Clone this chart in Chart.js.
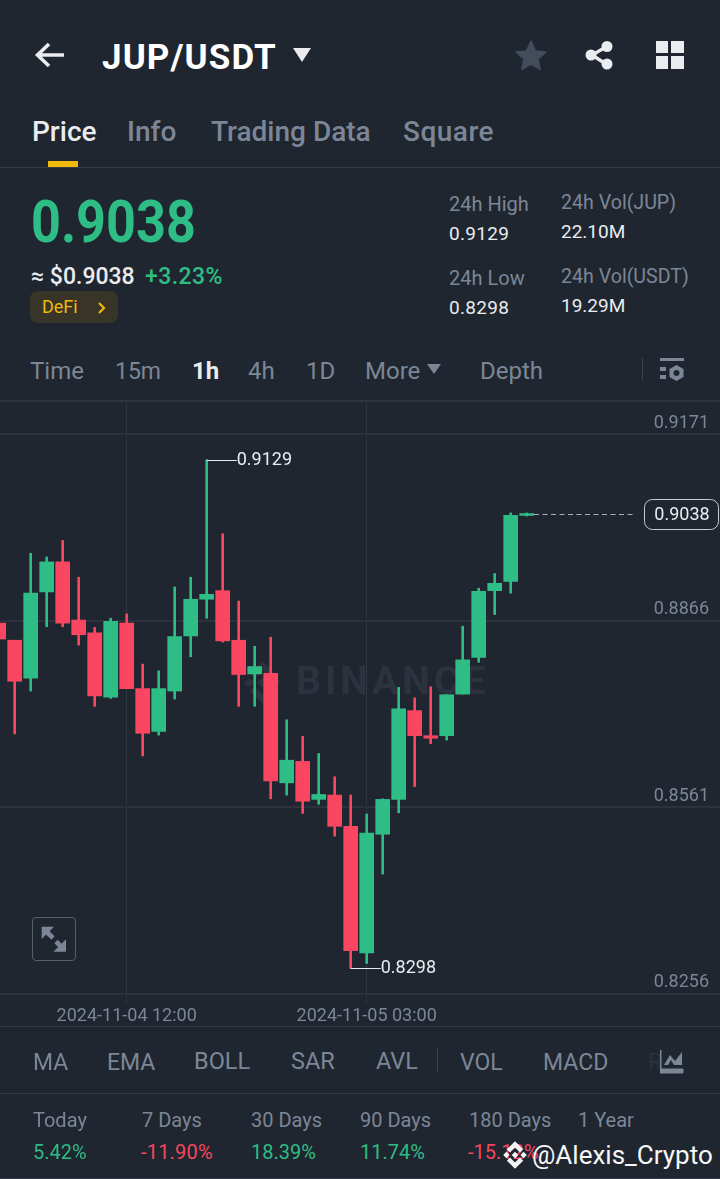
<!DOCTYPE html>
<html>
<head>
<meta charset="utf-8">
<title>JUP/USDT</title>
<script src="https://cdn.jsdelivr.net/npm/chart.js@4/dist/chart.umd.js"></script>
<style>
html, body { margin: 0; padding: 0; background: #1f2630; }
body { width: 720px; height: 1179px; position: relative; overflow: hidden; font-family: Roboto, sans-serif; color: #7d8696; }
.t { position: absolute; white-space: nowrap; line-height: 1; transform: translateY(-50%); }
.g { color: #7d8696; }
.w { color: #eaecef; }
.up { color: #2ebd85; }
.down { color: #f6465d; }
.hr { position: absolute; left: 0; width: 720px; height: 1px; background: #353c47; }
svg { position: absolute; }
#grafica { position: absolute; left: 0; top: 401px; }
</style>
</head>
<body>
<!-- cabecera -->
<svg style="left:34px;top:41px" width="32" height="28" viewBox="0 0 32 28"><path d="M30 14H4M15 3L3.5 14L15 25" fill="none" stroke="#eaecef" stroke-width="3.6"/></svg>
<div class="t" style="left:102px;top:57px;font-size:35px;font-weight:700;color:#fff;letter-spacing:1.1px">JUP/USDT</div>
<svg style="left:292px;top:47px" width="20" height="16"><path d="M1 1H19L10 15Z" fill="#eaecef"/></svg>
<svg style="left:514px;top:39px" width="34" height="34" viewBox="0 0 24 24"><path d="M12 1.5l3.1 6.9 7.4.8-5.5 5 1.5 7.3L12 17.8l-6.5 3.7L7 14.2l-5.5-5 7.4-.8z" fill="#434c5b" stroke="#434c5b" stroke-linejoin="round"/></svg>
<svg style="left:583px;top:39px" width="32" height="32" viewBox="0 0 32 32"><path d="M23 8L9 16L23 25" fill="none" stroke="#eaecef" stroke-width="3.4"/><circle cx="24" cy="7.5" r="5.5" fill="#eaecef"/><circle cx="8" cy="16" r="5.5" fill="#eaecef"/><circle cx="24" cy="25" r="5.5" fill="#eaecef"/></svg>
<svg style="left:656px;top:41px" width="28" height="28"><path d="M0 0H12V12H0ZM15 0H28V12H15ZM0 15H12V28H0ZM15 15H28V28H15Z" fill="#eaecef"/></svg>

<div class="t" style="left:32px;top:132px;font-size:28px;font-weight:500;color:#eaecef">Price</div>
<div class="t g" style="left:127px;top:132px;font-size:28px;font-weight:500">Info</div>
<div class="t g" style="left:211px;top:132px;font-size:28px;font-weight:500">Trading Data</div>
<div class="t g" style="left:403px;top:132px;font-size:28px;font-weight:500;letter-spacing:.5px">Square</div>
<div style="position:absolute;left:48px;top:161px;width:30px;height:6px;background:#f0b90b"></div>
<div class="hr" style="top:167px"></div>

<!-- precio -->
<div class="t up" style="left:31px;top:222px;font-size:60px;font-weight:700;transform-origin:left center;transform:translateY(-50%) scaleX(.87)">0.9038</div>
<div class="t w" style="left:31px;top:276px;font-size:23px;font-weight:500">≈ $0.9038</div>
<div class="t up" style="left:145px;top:276px;font-size:23px;font-weight:500;letter-spacing:.4px">+3.23%</div>
<div style="position:absolute;left:30px;top:291px;width:88px;height:32px;border-radius:8px;background:#383428"></div>
<div class="t" style="left:42px;top:307px;font-size:18px;color:#f0b90b">DeFi</div>
<svg style="left:97px;top:301px" width="10" height="14"><path d="M2 2L7 7L2 12" fill="none" stroke="#f0b90b" stroke-width="2.2"/></svg>

<div class="t g" style="left:449px;top:204px;font-size:20px">24h High</div>
<div class="t w" style="left:449px;top:233px;font-size:19px;letter-spacing:.3px">0.9129</div>
<div class="t g" style="left:561px;top:203px;font-size:19.6px">24h Vol(JUP)</div>
<div class="t w" style="left:561px;top:231px;font-size:19px">22.10M</div>
<div class="t g" style="left:449px;top:278px;font-size:20px">24h Low</div>
<div class="t w" style="left:449px;top:307px;font-size:19px;letter-spacing:.3px">0.8298</div>
<div class="t g" style="left:561px;top:277px;font-size:19.6px">24h Vol(USDT)</div>
<div class="t w" style="left:561px;top:305px;font-size:19px">19.29M</div>

<!-- intervalos -->
<div class="t g" style="left:30px;top:371px;font-size:24px">Time</div>
<div class="t g" style="left:115px;top:371px;font-size:23px">15m</div>
<div class="t w" style="left:192px;top:371px;font-size:24px;font-weight:700">1h</div>
<div class="t g" style="left:248px;top:371px;font-size:24px">4h</div>
<div class="t g" style="left:306px;top:371px;font-size:24px">1D</div>
<div class="t g" style="left:365px;top:371px;font-size:24px">More</div>
<svg style="left:427px;top:364px" width="14" height="10"><path d="M0 0H14L7 10Z" fill="#7d8696"/></svg>
<div class="t g" style="left:480px;top:371px;font-size:24px">Depth</div>
<div style="position:absolute;left:642px;top:358px;width:1px;height:23px;background:#3b424d"></div>
<svg style="left:660px;top:358px" width="24" height="24"><path d="M0 0H24V3H0ZM0 9H6V13H0ZM0 17H6V21H0Z" fill="#7d8696"/><path d="M16.5 7L23.5 11V19L16.5 23L9.5 19V11Z" fill="#7d8696"/><circle cx="16.5" cy="15" r="3" fill="#1f2630"/></svg>
<div class="hr" style="top:400px;height:2px;background:#2c333e"></div>

<canvas id="grafica" width="720" height="626"></canvas>

<div style="position:absolute;left:32px;top:917px;width:42px;height:42px;border:1px solid #565e6c;border-radius:4px;background:#1f2630"></div>
<svg style="left:32px;top:917px" width="44" height="44"><path d="M9.7 9.7H22L9.7 22ZM34 34.7V22.3L21.3 34.7Z" fill="#7d8696"/><path d="M13 13L21 21M24 24.5L30 30.5" stroke="#7d8696" stroke-width="4.6"/></svg>

<!-- indicadores -->
<div class="hr" style="top:1026px"></div>
<div class="t g" style="left:33px;top:1062px;font-size:23px">MA</div>
<div class="t g" style="left:107px;top:1062px;font-size:23px">EMA</div>
<div class="t g" style="left:194px;top:1062px;font-size:23.5px">BOLL</div>
<div class="t g" style="left:291px;top:1062px;font-size:23.5px">SAR</div>
<div class="t g" style="left:376px;top:1062px;font-size:23.5px">AVL</div>
<div style="position:absolute;left:437px;top:1048px;width:1px;height:24px;background:#3b424d"></div>
<div class="t g" style="left:460px;top:1062px;font-size:23px">VOL</div>
<div class="t g" style="left:543px;top:1062px;font-size:23px">MACD</div>
<div class="t" style="left:648px;top:1062px;font-size:23px;color:#2b323c">R</div>
<svg style="left:660px;top:1050px" width="24" height="24"><path d="M1 0V19H23V23H0V0Z" fill="#7d8696" stroke="#7d8696"/><path d="M4 15L10 5L15 11L22 2V15Z" fill="#7d8696"/><path d="M8 15L11 10L14 15Z" fill="#1f2630"/></svg>
<div class="hr" style="top:1093px"></div>

<div class="t g" style="left:33px;top:1120px;font-size:20px">Today</div>
<div class="t g" style="left:142px;top:1120px;font-size:20px">7 Days</div>
<div class="t g" style="left:251px;top:1120px;font-size:20px">30 Days</div>
<div class="t g" style="left:360px;top:1120px;font-size:20px">90 Days</div>
<div class="t g" style="left:469px;top:1120px;font-size:20px">180 Days</div>
<div class="t g" style="left:578px;top:1120px;font-size:20px">1 Year</div>
<div class="t up" style="left:33px;top:1152px;font-size:20px">5.42%</div>
<div class="t down" style="left:141px;top:1152px;font-size:20px;letter-spacing:.2px">-11.90%</div>
<div class="t up" style="left:251px;top:1152px;font-size:20px">18.39%</div>
<div class="t up" style="left:360px;top:1152px;font-size:20px">11.74%</div>
<div class="t down" style="left:468px;top:1152px;font-size:20px">-15.12%</div>
<div class="hr" style="top:1178px"></div>

<svg style="left:498px;top:1138px" width="34" height="34" viewBox="0 0 32 32"><path id="logoBnb" fill="#f4f5f6" fill-rule="evenodd" d="M16 12.9L19.1 16L16 19.1L12.9 16ZM7.9 13L10.9 16L7.9 19L4.9 16ZM24.1 13L27.1 16L24.1 19L21.1 16ZM16 3L23.7 10.7L20.7 13.7L16 9L11.3 13.7L8.3 10.7ZM16 29L8.3 21.3L11.3 18.3L16 23L20.7 18.3L23.7 21.3Z"/></svg>
<div class="t" style="left:532px;top:1155px;font-size:26px;color:#f7f7f7">@Alexis_Crypto</div>

<script>
// ===============================
// DATOS DE LAS VELAS (1h)
// ===============================
const aperturas = [0.8862, 0.8834, 0.8772, 0.8913, 0.8962, 0.8867, 0.8846, 0.8741, 0.8862, 0.8755, 0.8685, 0.8751, 0.8841, 0.8901, 0.8915, 0.8834, 0.8779, 0.8780, 0.8601, 0.8636, 0.8574, 0.8581, 0.8530, 0.8323, 0.8517, 0.8574, 0.8719, 0.8678, 0.8678, 0.8746, 0.8806, 0.8915, 0.8930, 0.9038];
const cierres = [0.8836, 0.8767, 0.8911, 0.8962, 0.8862, 0.8843, 0.8743, 0.8865, 0.8755, 0.8682, 0.8755, 0.8840, 0.8901, 0.8909, 0.8833, 0.8778, 0.8791, 0.8604, 0.8638, 0.8571, 0.8582, 0.8530, 0.8327, 0.8519, 0.8574, 0.8722, 0.8678, 0.8674, 0.8745, 0.8802, 0.8914, 0.8927, 0.9038, 0.9041];
const maximos = [0.8862, 0.8834, 0.8976, 0.8970, 0.8997, 0.8937, 0.8855, 0.8870, 0.8877, 0.8795, 0.8784, 0.8921, 0.8937, 0.9129, 0.9008, 0.8898, 0.8824, 0.8839, 0.8704, 0.8677, 0.8649, 0.8611, 0.8581, 0.8550, 0.8575, 0.8757, 0.8740, 0.8758, 0.8745, 0.8857, 0.8919, 0.8943, 0.9042, 0.9042];
const minimos = [0.8836, 0.8681, 0.8751, 0.8856, 0.8856, 0.8826, 0.8726, 0.8739, 0.8755, 0.8645, 0.8679, 0.8738, 0.8807, 0.8870, 0.8831, 0.8726, 0.8726, 0.8575, 0.8581, 0.8551, 0.8566, 0.8514, 0.8298, 0.8306, 0.8452, 0.8552, 0.8595, 0.8665, 0.8671, 0.8746, 0.8798, 0.8876, 0.8911, 0.9037];

const ticksPrecio = [0.9171, 0.8866, 0.8561, 0.8256];
const ticksHora = [8, 23];
const etiquetasHora = ["2024-11-04 12:00", "2024-11-05 03:00"];
const ultimoPrecio = 0.9038;

const VERDE = "#2ebd85";
const ROJO = "#fb4661";

const indices = aperturas.map((_, i) => i);
const colores = indices.map(i => cierres[i] >= aperturas[i] ? VERDE : ROJO);

// ===============================
// MARCA DE AGUA Y ETIQUETAS
// ===============================
const logo = new Path2D(document.getElementById("logoBnb").getAttribute("d"));

const marcaAgua = {
    id: "marcaAgua",
    beforeDatasetsDraw(chart) {
        const c = chart.ctx;
        c.save();
        c.fillStyle = "#2d333e";
        c.font = "700 39px Roboto";
        c.letterSpacing = "4px";
        c.textBaseline = "middle";
        c.fillText("BINANCE", 296, 283);
        c.translate(236, 255);
        c.scale(1.65, 1.65);
        c.fill(logo, "evenodd");
        c.restore();
    }
};

const marcasPrecio = {
    id: "marcasPrecio",
    afterDatasetsDraw(chart) {
        const c = chart.ctx;
        const x = chart.scales.x;
        const y = chart.scales.y;

        // maximo y minimo
        const iMax = maximos.indexOf(Math.max(...maximos));
        const iMin = minimos.indexOf(Math.min(...minimos));
        c.save();
        c.font = "18px Roboto";
        c.textBaseline = "middle";
        [[iMax, maximos[iMax]], [iMin, minimos[iMin]]].forEach(([i, v]) => {
            const px = x.getPixelForValue(i);
            const py = Math.round(y.getPixelForValue(v));
            c.strokeStyle = "#eaecef";
            c.lineWidth = 1;
            c.beginPath();
            c.moveTo(px, py + 0.5);
            c.lineTo(px + 30, py + 0.5);
            c.stroke();
            c.fillStyle = "#eaecef";
            c.fillText(v.toFixed(4), px + 30, py);
        });

        // ultimo precio
        const py = Math.round(y.getPixelForValue(ultimoPrecio)) - 0.5;
        c.strokeStyle = "#aab0b8";
        c.setLineDash([5, 3.5]);
        c.beginPath();
        c.moveTo(534, py);
        c.lineTo(634, py);
        c.stroke();
        c.setLineDash([]);
        c.fillStyle = "#1f2630";
        c.strokeStyle = "#c8ccd2";
        c.beginPath();
        c.roundRect(644.5, py - 15, 74, 30, 8);
        c.fill();
        c.stroke();
        c.fillStyle = "#eaecef";
        c.textAlign = "center";
        c.fillText(ultimoPrecio.toFixed(4), 682, py + 1);
        c.restore();
    }
};

// ===============================
// GRAFICA DE VELAS
// ===============================
new Chart(document.getElementById("grafica"), {
    type: "bar",
    data: {
        datasets: [
            {
                label: "Cuerpo",
                data: indices.map(i => ({ x: i, y: [aperturas[i], cierres[i]] })),
                backgroundColor: colores,
                barThickness: 14,
                grouped: false,
                order: 1
            },
            {
                label: "Mecha",
                data: indices.map(i => ({ x: i, y: [minimos[i], maximos[i]] })),
                backgroundColor: colores,
                barThickness: 2,
                grouped: false,
                order: 2
            }
        ]
    },
    plugins: [marcaAgua, marcasPrecio],
    options: {
        responsive: false,
        animation: false,
        layout: { padding: 0 },
        plugins: { legend: { display: false }, tooltip: { enabled: false } },
        scales: {
            x: {
                type: "linear",
                offset: false,
                min: 0.08125,
                max: 45.08125,
                afterBuildTicks: s => { s.ticks = ticksHora.map(v => ({ value: v })); },
                afterFit: s => { s.height = 23; s.paddingLeft = 0; s.paddingRight = 0; },
                grid: { offset: false, color: "#2f3641", drawTicks: false, lineWidth: 1 },
                border: { display: false },
                ticks: {
                    autoSkip: false,
                    maxRotation: 0,
                    padding: 2,
                    color: "#7d8696",
                    font: { family: "Roboto", size: 18 },
                    callback: v => etiquetasHora[ticksHora.indexOf(v)]
                }
            },
            y: {
                position: "right",
                min: 0.823966,
                max: 0.922492,
                afterBuildTicks: s => { s.ticks = ticksPrecio.map(v => ({ value: v })); },
                afterFit: s => { s.width = 0; s.paddingTop = 0; s.paddingBottom = 0; },
                grid: { color: "#2b323d", drawTicks: false, lineWidth: 2 },
                border: { display: false },
                ticks: {
                    mirror: true,
                    padding: -11,
                    labelOffset: -11,
                    color: "#7d8696",
                    font: { family: "Roboto", size: 18 },
                    callback: v => v.toFixed(4)
                }
            }
        }
    }
});
</script>
</body>
</html>
